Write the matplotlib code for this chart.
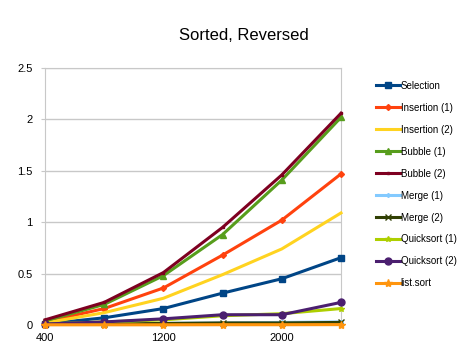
import matplotlib
matplotlib.use("Agg")
import matplotlib.pyplot as plt

plt.rcParams['font.family'] = ['Liberation Sans', 'DejaVu Sans']

# Data
sizes = [400, 800, 1200, 1600, 2000, 2400]
names = ["Selection", "Insertion (1)", "Insertion (2)", "Bubble (1)", "Bubble (2)",
         "Merge (1)", "Merge (2)", "Quicksort (1)", "Quicksort (2)", "list.sort"]
selection = [0.01, 0.07, 0.16, 0.31, 0.45, 0.655]
insertion1 = [0.03, 0.16, 0.36, 0.68, 1.02, 1.47]
insertion2 = [0.02, 0.12, 0.26, 0.49, 0.74, 1.09]
bubble1 = [0.04, 0.20, 0.48, 0.88, 1.41, 2.02]
bubble2 = [0.05, 0.22, 0.51, 0.95, 1.46, 2.06]
merge1 = [0.005, 0.01, 0.015, 0.02, 0.025, 0.03]
merge2 = [0.005, 0.01, 0.015, 0.02, 0.02, 0.025]
quick1 = [0.01, 0.03, 0.05, 0.09, 0.11, 0.16]
quick2 = [0.01, 0.03, 0.06, 0.10, 0.10, 0.22]
listsort = [0.002, 0.002, 0.002, 0.003, 0.003, 0.004]

series = [selection, insertion1, insertion2, bubble1, bubble2,
          merge1, merge2, quick1, quick2, listsort]
colors = ["#004586", "#ff420e", "#ffd320", "#579d1c", "#7e0021",
          "#83caff", "#314004", "#aecf00", "#4b1f6f", "#ff950e"]
markers = ["s", "D", "v", "^", "s", "D", "x", "*", "o", "*"]
msizes = [5, 3, 0, 5, 2, 2, 4, 4, 5, 6]

fig = plt.figure(figsize=(4.74, 3.62), dpi=100)
ax = fig.add_axes([45 / 474, 1 - 325 / 362, 296 / 474, 257 / 362])

for vals, name, c, m, ms in zip(series, names, colors, markers, msizes):
    ax.plot(sizes, vals, color=c, lw=2.2, marker=m, markersize=ms,
            markeredgecolor=c, label=name, clip_on=False, zorder=3)

ax.set_xlim(400, 2400)
ax.set_ylim(0, 2.5)
ax.set_xticks([400, 1200, 2000])
ax.set_yticks([0, 0.5, 1, 1.5, 2, 2.5])
ax.set_yticklabels(["0", "0.5", "1", "1.5", "2", "2.5"])
ax.yaxis.grid(True, color="#c8c8c8", lw=1)
ax.set_axisbelow(True)
for s in ax.spines.values():
    s.set_color("#c8c8c8")
ax.tick_params(axis="y", length=3, color="#c8c8c8", labelsize=8, pad=6)
ax.tick_params(axis="x", length=0, labelsize=8, pad=6)

fig.text(0.515, 0.903, "Sorted, Reversed", ha="center", va="center", fontsize=12)

ax.legend(loc="upper left", bbox_to_anchor=(1.097, 0.973), frameon=False,
          fontsize=7, handlelength=2.47, handletextpad=0.1, labelspacing=1.23,
          borderaxespad=0.2)

fig.savefig("out.png", dpi=100)
